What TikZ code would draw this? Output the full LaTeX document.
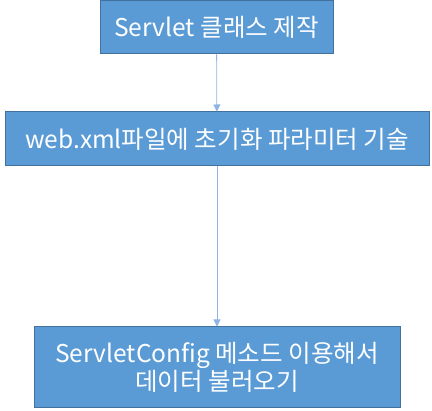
\documentclass[tikz,border=0pt]{standalone}
\usepackage{fontspec}
\setmainfont{Noto Sans CJK KR}
\usetikzlibrary{arrows.meta}
\definecolor{boxfill}{HTML}{5B9BD5}
\definecolor{boxline}{HTML}{41719C}
\definecolor{arrcol}{HTML}{8FB4E3}
\begin{document}
\begin{tikzpicture}[x=1pt,y=-1pt,
  stepbox/.style={draw=boxline,fill=boxfill,line width=1pt,text=white,font=\fontsize{24.5}{26}\selectfont,align=center,inner sep=0pt},
  conn/.style={draw=arrcol,line width=0.8pt,-{Triangle[length=7pt,width=7pt]}}]
\useasboundingbox (0,0) rectangle (432,411);
\node[stepbox,minimum width=233pt,minimum height=53pt] (a) at (216.5,27.5) {Servlet 클래스 제작};
\node[stepbox,minimum width=424pt,minimum height=54pt] (b) at (217,139) {web.xml파일에 초기화 파라미터 기술};
\node[stepbox,minimum width=366pt,minimum height=81pt] (c) at (217,367.5) {ServletConfig 메소드 이용해서\\데이터 불러오기};
\draw[conn] (a) -- (b);
\draw[conn] (b) -- (c);
\end{tikzpicture}
\end{document}
